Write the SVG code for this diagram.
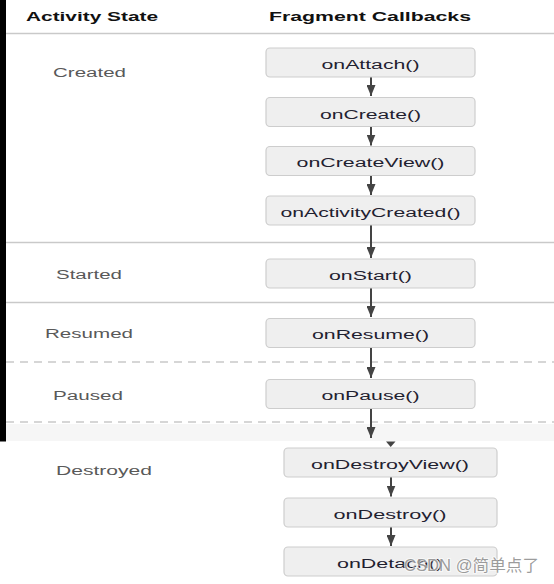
<svg xmlns="http://www.w3.org/2000/svg" width="554" height="584" viewBox="0 0 554 584">
<style>
.box{fill:#efefef;stroke:#cdcdcd;stroke-width:1.2}
.bt{font-family:"Liberation Sans",Arial,sans-serif;font-size:12.5px;fill:#1f2130;text-anchor:middle}
.lab{font-family:"Liberation Sans",Arial,sans-serif;font-size:12.5px;fill:#595959}
.hd{font-family:"Liberation Sans",Arial,sans-serif;font-size:12px;font-weight:bold;fill:#111}
.sep{stroke:#c9c9c9;stroke-width:1.5;fill:none}
.dash{stroke:#c9c9c9;stroke-width:1.5;fill:none;stroke-dasharray:8 6}
.arr{stroke:#444;stroke-width:2;fill:none;marker-end:url(#ah)}
</style>
<defs>
<marker id="ah" markerUnits="userSpaceOnUse" markerWidth="11" markerHeight="9" refX="11" refY="4.5" orient="auto">
<path d="M0,0 L11,4.5 L0,9 z" fill="#444"/>
</marker>
</defs>
<rect x="0" y="0" width="554" height="584" fill="#ffffff"/>
<rect x="6" y="424" width="548" height="17" fill="#f6f6f6"/>
<rect x="0" y="0" width="6" height="441.5" fill="#000000"/>
<g id="header">
<text class="hd" x="26" y="21" textLength="132" lengthAdjust="spacingAndGlyphs">Activity State</text>
<text class="hd" x="269" y="21" textLength="202" lengthAdjust="spacingAndGlyphs">Fragment Callbacks</text>
</g>
<g id="separators">
<line class="sep" x1="6" y1="33.5" x2="554" y2="33.5"/>
<line class="sep" x1="6" y1="242.5" x2="554" y2="242.5"/>
<line class="sep" x1="6" y1="302.5" x2="554" y2="302.5"/>
<line class="dash" x1="6" y1="362" x2="554" y2="362"/>
<line class="dash" x1="6" y1="422" x2="554" y2="422"/>
</g>
<g id="states">
<text class="lab" x="53" y="77" textLength="73" lengthAdjust="spacingAndGlyphs">Created</text>
<text class="lab" x="56" y="279" textLength="66" lengthAdjust="spacingAndGlyphs">Started</text>
<text class="lab" x="45" y="338" textLength="88" lengthAdjust="spacingAndGlyphs">Resumed</text>
<text class="lab" x="53" y="400" textLength="70" lengthAdjust="spacingAndGlyphs">Paused</text>
<text class="lab" x="56" y="475" textLength="96" lengthAdjust="spacingAndGlyphs">Destroyed</text>
</g>
<g id="connectors">
<line class="arr" x1="371" y1="77" x2="371" y2="96"/>
<line class="arr" x1="371" y1="126.5" x2="371" y2="145.5"/>
<line class="arr" x1="371" y1="175.5" x2="371" y2="195"/>
<line class="arr" x1="371" y1="225" x2="371" y2="258"/>
<line class="arr" x1="371" y1="288" x2="371" y2="317"/>
<line class="arr" x1="371" y1="347.5" x2="371" y2="378"/>
<line class="arr" x1="371" y1="409" x2="371" y2="438"/>
<path d="M386,441.5 L395.5,441.5 L390.7,447 z" fill="#444"/>
<line class="arr" x1="391" y1="477" x2="391" y2="496.5"/>
<line class="arr" x1="391" y1="527" x2="391" y2="546"/>
</g>
<g id="onAttach"><rect class="box" x="266" y="48" width="209" height="29" rx="4"/><text class="bt" x="370.5" y="69" textLength="98" lengthAdjust="spacingAndGlyphs">onAttach()</text></g>
<g id="onCreate"><rect class="box" x="266" y="97.5" width="209" height="29" rx="4"/><text class="bt" x="370.5" y="118.5" textLength="101" lengthAdjust="spacingAndGlyphs">onCreate()</text></g>
<g id="onCreateView"><rect class="box" x="266" y="146.5" width="209" height="29" rx="4"/><text class="bt" x="370.5" y="167" textLength="148" lengthAdjust="spacingAndGlyphs">onCreateView()</text></g>
<g id="onActivityCreated"><rect class="box" x="266" y="196" width="209" height="29" rx="4"/><text class="bt" x="370.5" y="216.5" textLength="180" lengthAdjust="spacingAndGlyphs">onActivityCreated()</text></g>
<g id="onStart"><rect class="box" x="266" y="259" width="209" height="29" rx="4"/><text class="bt" x="370.5" y="279.5" textLength="83" lengthAdjust="spacingAndGlyphs">onStart()</text></g>
<g id="onResume"><rect class="box" x="266" y="318.5" width="209" height="29" rx="4"/><text class="bt" x="370.5" y="339" textLength="117" lengthAdjust="spacingAndGlyphs">onResume()</text></g>
<g id="onPause"><rect class="box" x="266" y="379.5" width="209" height="29" rx="4"/><text class="bt" x="370.5" y="400" textLength="98" lengthAdjust="spacingAndGlyphs">onPause()</text></g>
<g id="onDestroyView"><rect class="box" x="284" y="448" width="213" height="29" rx="4"/><text class="bt" x="390" y="469" textLength="158" lengthAdjust="spacingAndGlyphs">onDestroyView()</text></g>
<g id="onDestroy"><rect class="box" x="284" y="498" width="213" height="29" rx="4"/><text class="bt" x="390" y="519" textLength="113" lengthAdjust="spacingAndGlyphs">onDestroy()</text></g>
<g id="onDetach"><rect class="box" x="284" y="547" width="213" height="29" rx="4"/><text class="bt" x="390" y="568" textLength="106" lengthAdjust="spacingAndGlyphs">onDetach()</text></g>
<text x="404" y="571" textLength="135" lengthAdjust="spacingAndGlyphs" style="font-family:'Liberation Sans','Noto Sans CJK SC',sans-serif;font-size:16px;fill:#8a8a8a;fill-opacity:0.85;stroke:#ffffff;stroke-width:2;stroke-opacity:0.6;paint-order:stroke">CSDN @简单点了</text>
</svg>
